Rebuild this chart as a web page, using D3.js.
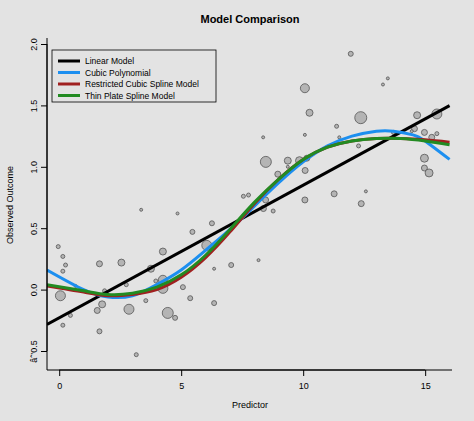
<!DOCTYPE html><html><head><script src="https://d3js.org/d3.v7.min.js"></script>
<style>body{margin:0;background:#e3e3e3}text{font-family:"Liberation Sans",Arial,sans-serif}</style></head><body>
<svg id="c" width="474" height="421"></svg>
<script>
const xTicks=[0,5,10,15];
const yTicks=[-0.5,0,0.5,1,1.5,2];
const ptX=[-0.04,0.15,0.26,0.15,0.05,0.67,0.46,0.15,1.65,2.55,1.86,1.76,1.56,2.86,1.65,3.16,3.36,2.75,3.55,3.76,4.25,4.25,4.25,3.96,4.45,4.75,4.85,5.07,5.37,5.46,6.05,6.26,6.35,6.35,7.05,7.55,7.76,8.17,11.95,13.47,13.27,10.07,10.26,12.36,11.37,11.48,8.36,10.07,14.67,15.48,14.56,14.97,15.48,15.27,13.7,14.45,12.27,14.97,14.97,15.16,8.47,8.96,9.37,9.37,9.85,10.08,10.15,8.46,8.37,8.77,10.07,11.27,12.57,12.38,11.48];
const ptY=[0.35,0.27,0.2,0.15,-0.05,0.03,-0.21,-0.29,0.21,0.22,-0.01,-0.12,-0.17,-0.16,-0.34,-0.53,0.65,0.04,-0.09,0.17,0.31,0.08,0.01,0.07,-0.19,-0.23,0.62,0.02,-0.07,0.47,0.36,0.54,0.17,-0.11,0.2,0.76,0.77,0.24,1.92,1.72,1.67,1.64,1.44,1.4,1.33,1.24,1.24,1.26,1.42,1.43,1.31,1.28,1.27,1.24,1.28,1.29,1.17,1.07,0.99,0.95,1.04,0.94,1,1.05,1.05,0.97,1.07,0.73,0.66,0.64,0.73,0.78,0.8,0.7,0.38];
const ptR=[2,2,2,2,5,1.5,2,2,3,3.5,2,3.5,3,5,2.5,2,1.5,2,2,3.5,3.5,4.5,5,2,5.5,2.5,1.5,2.5,2.5,2.5,5,2.5,1.5,2.5,2.5,2,2,1.5,2.5,1.5,1.5,4.5,3.5,6,2,1.5,1.5,1.5,3.5,5,3,3,2,3,2,1.5,2,4,3,4,5.5,3,1.5,3.5,4,3,3,3,3,2,3,3,1.5,3];
const lineX=[-0.5,16];
const linY=[-0.284,1.498];
const cubX=[-0.5,1,2,3,4,5,6,7,8,9,10,11,12,13,13.7,14.5,15,16];
const cubY=[0.16,0.0,-0.06,-0.05,0.04,0.16,0.32,0.49,0.68,0.87,1.04,1.17,1.25,1.29,1.29,1.26,1.21,1.06];
const rcsX=[-0.5,1,2,3,4,5,6,7,8,9,10,11,12,13,14,15,16];
const rcsY=[0.03,-0.02,-0.05,-0.04,0.0,0.1,0.26,0.47,0.7,0.9,1.06,1.16,1.21,1.23,1.23,1.22,1.2];
const tpsY=[0.04,-0.01,-0.04,-0.03,0.02,0.12,0.28,0.49,0.71,0.9,1.06,1.16,1.21,1.23,1.23,1.21,1.18];
const legend=["Linear Model","Cubic Polynomial","Restricted Cubic Spline Model","Thin Plate Spline Model"];
const colors=["#000000","#1c8ff0","#a02020","#228b22"];

const svg=d3.select("#c");
const x=d3.scaleLinear().domain([-0.5,16.1]).range([47,452]);
const y=d3.scaleLinear().domain([-0.5,2]).range([351,44]);
svg.append("clipPath").attr("id","cl").append("rect").attr("x",47).attr("y",38).attr("width",405).attr("height",332);
const g=svg.append("g").attr("clip-path","url(#cl)");
g.selectAll("circle").data(ptX).join("circle").attr("cx",(d,i)=>x(d)).attr("cy",(d,i)=>y(ptY[i])).attr("r",(d,i)=>ptR[i]).attr("fill","#b4b4b4").attr("stroke","#555").attr("stroke-width",0.8);
const ln=d3.line().x(d=>x(d[0])).y(d=>y(d[1])).curve(d3.curveNatural);
const series=[[lineX,linY],[cubX,cubY],[rcsX,rcsY],[rcsX,tpsY]];
series.forEach((s,k)=>g.append("path").attr("d",ln(s[0].map((v,i)=>[v,s[1][i]]))).attr("fill","none").attr("stroke",colors[k]).attr("stroke-width",3));
const xa=svg.append("g").attr("transform","translate(0,370)").call(d3.axisBottom(x).tickValues(xTicks).tickSize(6).tickFormat(d3.format("d")));
const ya=svg.append("g").attr("transform","translate(47,0)").call(d3.axisLeft(y).tickValues(yTicks).tickSize(6).tickFormat(d3.format(".1f")));
xa.select(".domain").attr("d","M"+x(0)+",0H"+x(15));
ya.select(".domain").attr("d","M0,"+y(-0.5)+"V"+y(2));
svg.selectAll(".tick text").attr("font-size",9).attr("fill","#000").attr("font-family","Liberation Sans, Arial");
xa.selectAll(".tick text").attr("dy","1.1em");
ya.selectAll(".tick text").attr("x",0).attr("dy",0).attr("transform","translate(-10,0) rotate(-90)").attr("text-anchor","middle");
svg.append("line").attr("x1",47).attr("x2",47).attr("y1",38).attr("y2",370).attr("stroke","#000");
svg.append("line").attr("x1",47).attr("x2",452).attr("y1",370).attr("y2",370).attr("stroke","#000");
svg.append("text").attr("x",250).attr("y",23).attr("text-anchor","middle").attr("font-weight","bold").attr("font-size",11).text("Model Comparison");
svg.append("text").attr("x",250).attr("y",408).attr("text-anchor","middle").attr("font-size",9).text("Predictor");
svg.append("text").attr("transform","translate(13,205) rotate(-90)").attr("text-anchor","middle").attr("font-size",9).text("Observed Outcome");
const lg=svg.append("g");
lg.append("rect").attr("x",52).attr("y",50).attr("width",164).attr("height",52).attr("fill","#e3e3e3").attr("stroke","#000").attr("stroke-width",0.8);
legend.forEach((t,i)=>{const yy=61+i*11.5;
lg.append("line").attr("x1",58).attr("x2",80).attr("y1",yy).attr("y2",yy).attr("stroke",colors[i]).attr("stroke-width",3);
lg.append("text").attr("x",85).attr("y",yy+3).attr("font-size",8.5).text(t);});
</script></body></html>
